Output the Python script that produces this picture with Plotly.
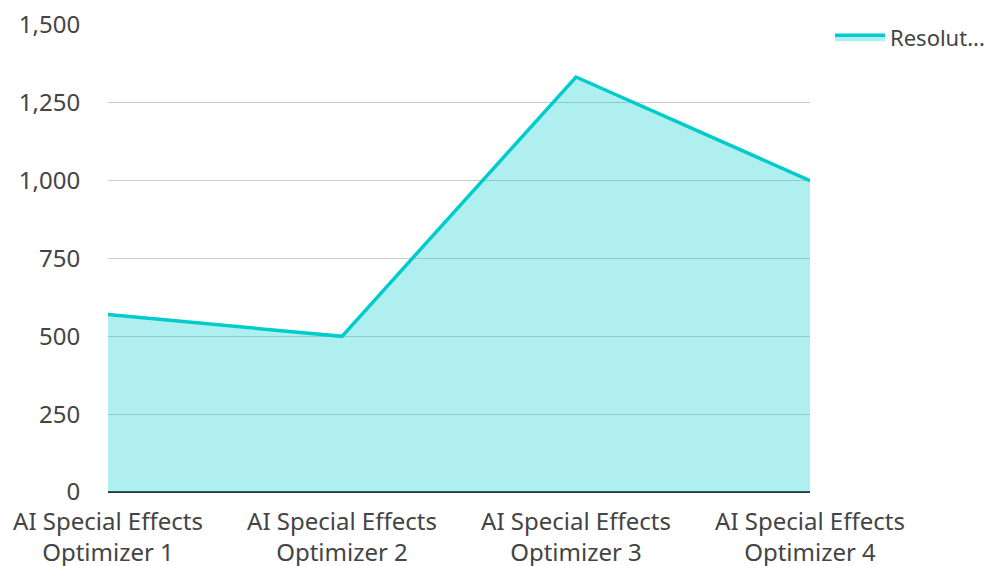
import plotly.graph_objects as go

categories = ["AI Special Effects<br>Optimizer 1", "AI Special Effects<br>Optimizer 2",
              "AI Special Effects<br>Optimizer 3", "AI Special Effects<br>Optimizer 4"]
values = [570, 500, 1333, 1000]
series_name = "Resolut..."
y_ticks = [0, 250, 500, 750, 1000, 1250, 1500]

fig = go.Figure()
fig.add_trace(go.Scatter(
    x=categories, y=values, name=series_name, mode="lines",
    line=dict(color="#00CCCC", width=3.5),
    fill="tozeroy", fillcolor="rgba(0,204,204,0.31)",
))

fig.update_layout(
    width=1000, height=566,
    margin=dict(l=100, r=198, t=17, b=82),
    paper_bgcolor="white", plot_bgcolor="white",
    font=dict(family="Noto Sans", size=24, color="#444444"),
    showlegend=True,
    legend=dict(xref="container", yref="container", x=0.822, y=0.985,
                xanchor="left", yanchor="top", itemwidth=50,
                font=dict(size=22, color="#444444"), bgcolor="rgba(0,0,0,0)"),
    xaxis=dict(range=[0, 3], showgrid=False, showline=False, zeroline=False,
               automargin=False, ticklabeloverflow="allow",
               ticks="outside", ticklen=8, tickcolor="rgba(0,0,0,0)",
               tickfont=dict(size=24, color="#444444")),
    yaxis=dict(range=[0, 1500], tickvals=y_ticks, tickformat=",",
               showgrid=True, gridcolor="#cccccc", gridwidth=1,
               zeroline=True, zerolinecolor="#333333", zerolinewidth=2,
               showline=False, automargin=False, ticklabeloverflow="allow",
               ticks="outside", ticklen=22, tickcolor="rgba(0,0,0,0)",
               tickfont=dict(size=24, color="#444444")),
)
fig.write_html("out.html")
